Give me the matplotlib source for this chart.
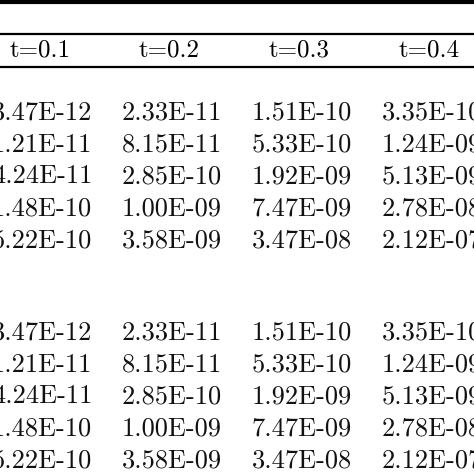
import matplotlib
matplotlib.use("Agg")
import matplotlib.pyplot as plt

headers = ["t=0.1", "t=0.2", "t=0.3", "t=0.4"]
col1 = ["3.47E-12", "1.21E-11", "4.24E-11", "1.48E-10", "5.22E-10"]
col2 = ["2.33E-11", "8.15E-11", "2.85E-10", "1.00E-09", "3.58E-09"]
col3 = ["1.51E-10", "5.33E-10", "1.92E-09", "7.47E-09", "3.47E-08"]
col4 = ["3.35E-10", "1.24E-09", "5.13E-09", "2.78E-08", "2.12E-07"]
blocks = [[col1, col2, col3, col4], [col1, col2, col3, col4]]

W = 474
fig = plt.figure(figsize=(4.74, 4.74), dpi=100)
ax = fig.add_axes([0, 0, 1, 1])
ax.set_xlim(0, W); ax.set_ylim(W, 0); ax.axis("off")

for y, lw in [(2, 3.0), (34, 1.6), (67, 1.6)]:
    ax.plot([0, W], [y, y], color="black", lw=lw, solid_capstyle="butt")

hx = [40, 169, 299, 429]
for x, h in zip(hx, headers):
    ax.text(x, 50, h, ha="center", va="center", fontsize=18, family="cmr10")

cx = [42, 172, 302, 432]
starts = [113, 333]
step = 31.8
for blk, y0 in zip(blocks, starts):
    for x, col in zip(cx, blk):
        for i, v in enumerate(col):
            ax.text(x, y0 + i * step, v, ha="center", va="center",
                    fontsize=19, family="cmr10", color="#111111")

fig.savefig("out.png", dpi=100)
